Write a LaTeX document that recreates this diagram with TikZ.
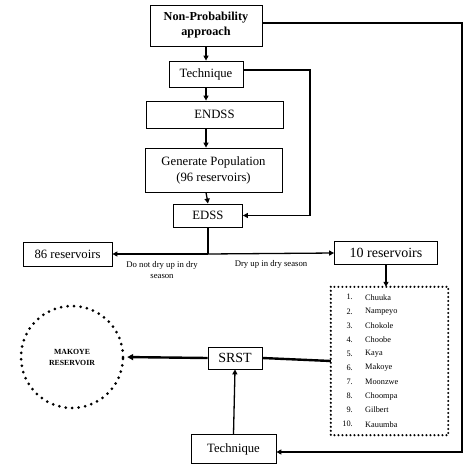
\documentclass[tikz,border=0pt]{standalone}
\usepackage{fontspec}
\setmainfont{Liberation Serif}
\usetikzlibrary{arrows.meta,positioning}

\begin{document}
\begin{tikzpicture}[x=1pt,y=-1pt]
\tikzset{
  box/.style={draw, line width=0.8pt, inner sep=1pt, align=center,
    font=\fontsize{12.7}{16}\selectfont},
  bigbox/.style={box, font=\fontsize{14}{16}\selectfont},
  conn/.style={line width=1.3pt, -{Triangle[length=5pt,width=5pt]}},
  thickconn/.style={line width=2.4pt, -{Triangle[length=6pt,width=6pt]}},
  lbl/.style={align=center, inner sep=0pt, font=\fontsize{8.7}{11}\selectfont},
  item/.style={inner sep=0pt, font=\fontsize{8.3}{10}\selectfont},
  dotbox/.style={line width=2.3pt, line cap=round, dash pattern=on 0pt off 4pt},
}
\useasboundingbox (0,0) rectangle (474,469);
\node[box, minimum width=112pt, minimum height=41pt,
  font=\fontsize{12.2}{15}\selectfont\bfseries] (nonprob) at (206,25.5) {Non-Probability\\approach};
\node[box, minimum width=74pt, minimum height=26pt] (tech1) at (206,74) {Technique};
\node[box, minimum width=137pt, minimum height=27pt] (endss) at (214.5,114.5) {ENDSS};
\node[box, minimum width=137pt, minimum height=44pt] (genpop) at (213.5,170) {Generate Population\\(96 reservoirs)};
\node[box, minimum width=69pt, minimum height=23pt] (edss) at (208,215.5) {EDSS};
\node[box, minimum width=89pt, minimum height=24pt] (res86) at (67.5,254) {86 reservoirs};
\node[bigbox, minimum width=103pt, minimum height=23pt] (res10) at (386,253) {10 reservoirs};
\node[minimum width=117pt, minimum height=148pt] (list) at (389.5,361) {};
\draw[dotbox] (list.north west) rectangle (list.south east);
\node[bigbox, minimum width=54pt, minimum height=22pt] (srst) at (235,358) {SRST};
\node[circle, minimum size=102pt, align=center,
  font=\fontsize{7.8}{11}\selectfont\bfseries] (makoye) at (72,357) {MAKOYE\\RESERVOIR};
\draw[line width=3pt, line cap=round, dash pattern=on 0pt off 6.5pt] (makoye) circle (51pt);
\node[box, minimum width=85pt, minimum height=29pt] (tech2) at (233.5,449) {Technique};
\foreach \n/\name [count=\i from 0] in {1/Chuuka,2/Nampeyo,3/Chokole,4/Choobe,5/Kaya,
    6/Makoye,7/Moonzwe,8/Choompa,9/Gilbert,10/Kauumba} {
  \node[item, anchor=east] (num\n) at (353,297.3+14.1*\i) {\n.};
  \node[item, anchor=west] (name\n) at (365,297.3+14.1*\i) {\name};
}
\coordinate (loop1) at (310,215.5);
\coordinate (loop2) at (462,452);
\coordinate (split) at (208,254);
\draw[conn] (nonprob.south) -- (tech1.north);
\draw[conn] (tech1.south) -- (tech1.south |- endss.north);
\draw[conn] (tech1.south |- endss.south) -- (tech1.south |- genpop.north);
\draw[conn] (tech1.south |- genpop.south) -- (edss.north);
\draw[conn] ([yshift=4pt]tech1.east) -| (loop1) -- (edss.east);
\draw[conn] ([yshift=2.5pt]nonprob.east) -| (loop2) -- (loop2 -| tech2.east);
\draw[line width=1.3pt] (edss.south) -- (split);
\draw[conn] (split) -- (res86.east);
\draw[conn] (split) -- (res10.west);
\node[lbl] (lbldry) at (162,270.5) {Do not dry up in dry\\season};
\node[lbl] (lblwet) at (271,264.5) {Dry up in dry season};
\draw[conn] (res10.south) -- (res10.south |- list.north);
\draw[line width=2.4pt] (list.west) -- (srst.east);
\draw[thickconn, shorten >=4pt] (srst.west) -- (makoye.east);
\draw[conn] (tech2.north) -- (srst.south);
\end{tikzpicture}
\end{document}
